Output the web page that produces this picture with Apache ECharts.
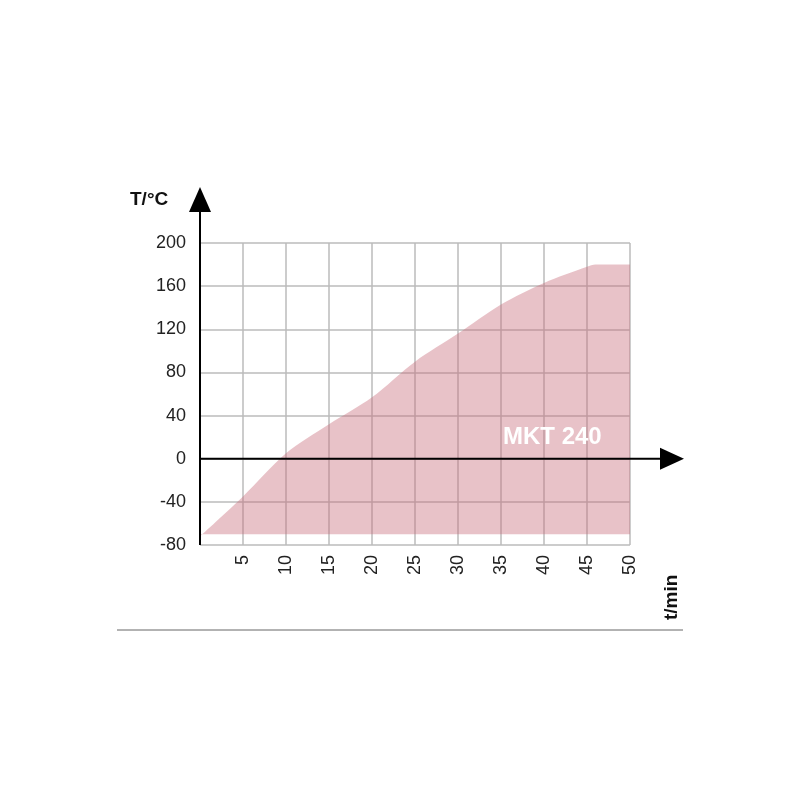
<!DOCTYPE html><html><head><meta charset="utf-8">
<script src="https://cdn.jsdelivr.net/npm/echarts@6/dist/echarts.min.js"></script>
<style>body{margin:0;background:#fff}#c{width:800px;height:800px}</style></head><body><div id="c"></div>
<script>
const times=[0,5,10,15,20,25,30,35,40,45,46,50];
const temps=[-72,-35,5,32,57,90,116,143,163,178,180,180];
const yTicks=[-80,-40,0,40,80,120,160,200];
const label='MKT 240';
const ch=echarts.init(document.getElementById('c'));
ch.setOption({
 animation:false,
 grid:{left:200,right:170,top:243,bottom:255},
 xAxis:{type:'value',min:0,max:50,interval:5,axisLine:{show:false},axisTick:{show:false},
  splitLine:{lineStyle:{color:'#bbb',width:1.5}},
  axisLabel:{rotate:90,fontSize:18,color:'#222',fontFamily:'Liberation Sans',margin:10,formatter:v=>v===0?'':v}},
 yAxis:{type:'value',min:-80,max:200,interval:40,axisLine:{show:false},axisTick:{show:false},
  splitLine:{lineStyle:{color:'#bbb',width:1.5}},
  axisLabel:{fontSize:18,color:'#222',fontFamily:'Liberation Sans',margin:14}},
 series:[{type:'line',data:times.map((t,i)=>[t,temps[i]]),symbol:'none',smooth:0.3,
  lineStyle:{width:0},areaStyle:{color:'rgba(200,110,125,0.6)',origin:-70},z:1}]
});
const p=(x,y)=>ch.convertToPixel({gridIndex:0},[x,y]);
const o=p(0,0),bot=p(0,-80);
ch.setOption({graphic:[
 {type:'line',shape:{x1:o[0],y1:bot[1],x2:o[0],y2:205},style:{stroke:'#000',lineWidth:2},z:10},
 {type:'polygon',shape:{points:[[o[0]-11,212],[o[0]+11,212],[o[0],187]]},style:{fill:'#000'},z:10},
 {type:'line',shape:{x1:o[0],y1:o[1],x2:665,y2:o[1]},style:{stroke:'#000',lineWidth:2},z:10},
 {type:'polygon',shape:{points:[[660,o[1]-11],[660,o[1]+11],[684,o[1]]]},style:{fill:'#000'},z:10},
 {type:'line',shape:{x1:117,y1:630,x2:683,y2:630},style:{stroke:'#666',lineWidth:1}},
 {type:'text',x:130,y:190,style:{text:'T/°C',font:'bold 19px Liberation Sans',fill:'#111'}},
 {type:'text',x:662,y:620,rotation:Math.PI/2,style:{text:'t/min',font:'bold 19px Liberation Sans',fill:'#111'}},
 {type:'text',x:503,y:425,style:{text:label,font:'bold 24px Liberation Sans',fill:'#fff'},z:10}
]});
</script></body></html>
